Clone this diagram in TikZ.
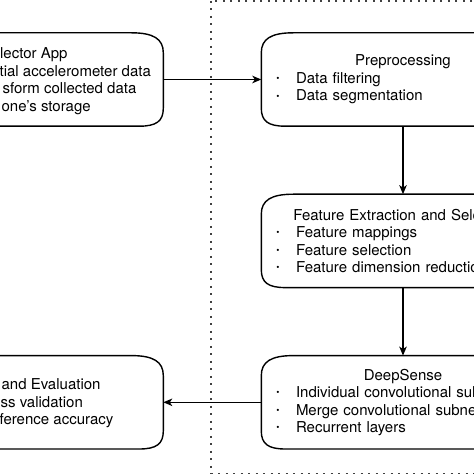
\documentclass[tikz,border=0pt]{standalone}
\usepackage{fontspec}
\setmainfont{TeX Gyre Heros}
\usetikzlibrary{positioning,arrows.meta}

\newcommand{\itm}{\hspace*{10pt}\makebox[12pt]{\raisebox{1.8pt}{\fontsize{9}{9}\selectfont\textbullet}}\hspace*{12pt}}
\newcommand{\ttl}[1]{\makebox[282pt]{#1}}
% outline of one stage box, drawn on the anchors of its node
\newcommand{\stageoutline}[1]{%
  \draw ([xshift=32pt]#1.north west) -- ([xshift=-32pt]#1.north east)
    .. controls ([xshift=-10pt]#1.north east) and ([yshift=-6pt]#1.north east) .. ([yshift=-20pt]#1.north east)
    -- ([yshift=18pt]#1.south east)
    .. controls ([yshift=5pt]#1.south east) and ([xshift=-7pt]#1.south east) .. ([xshift=-24pt]#1.south east)
    -- ([xshift=24pt]#1.south west)
    .. controls ([xshift=7pt]#1.south west) and ([yshift=5pt]#1.south west) .. ([yshift=18pt]#1.south west)
    -- ([yshift=-20pt]#1.north west)
    .. controls ([yshift=-6pt]#1.north west) and ([xshift=10pt]#1.north west) .. cycle;}

\begin{document}
\begin{tikzpicture}[x=1pt,y=1pt,line width=1.4pt,line join=round,
	stage/.style={inner xsep=0pt,text width=282pt,minimum height=92pt,align=left,font=\fontsize{15}{17.5}\selectfont},
	txt/.style={anchor=west,align=left,inner sep=0pt,font=\fontsize{15}{17.5}\selectfont},
	conn/.style={-{Stealth[length=9pt,width=7.5pt,inset=2.5pt]}}]
		\useasboundingbox (0,0) rectangle (474,474);
		\clip (0,0) rectangle (474,474);
		% dotted frame round the processing stages
		\draw[black!75,line width=1.6pt,dash pattern=on 1.8pt off 5.7pt] (211,473) rectangle (720,0.2);
		\node[stage] (prep) at (403,394.5) {\ttl{Preprocessing}\\ \itm Data filtering\\ \itm Data segmentation};
		\node[stage,below=68pt of prep] (feat) {\ttl{Feature Extraction and Selection}\\ \itm Feature mappings\\ \itm Feature selection\\ \itm Feature dimension reduction};
		\node[stage,below=68pt of feat] (deep) {\ttl{DeepSense}\\ \itm Individual convolutional subnets\\ \itm Merge convolutional subnets\\ \itm Recurrent layers};
		\node[stage,left=98pt of prep] (collect) {};
		\node[stage,left=98pt of deep] (evalu) {};
		\node[txt,yshift=-1.5pt] (collecttxt) at ([xshift=119pt]collect.west) {\hspace*{0.5pt}lector App\\ tial accelerometer data\\ \hspace*{3pt}sform collected data\\ \hspace*{2pt}one's storage};
		\node[txt,yshift=-1pt] (evalutxt) at ([xshift=119pt]evalu.west) {\hspace*{2pt}and Evaluation\\ \hspace*{1pt}ss validation\\ ference accuracy};
		\foreach \n in {collect,prep,feat,deep,evalu} {\stageoutline{\n}}
		\draw[conn] (collect.east) -- (prep.west);
		\draw[conn] (prep.south) -- (feat.north);
		\draw[conn] (feat.south) -- (deep.north);
		\draw[conn] (deep.west) -- (evalu.east);
	\end{tikzpicture}
\end{document}
